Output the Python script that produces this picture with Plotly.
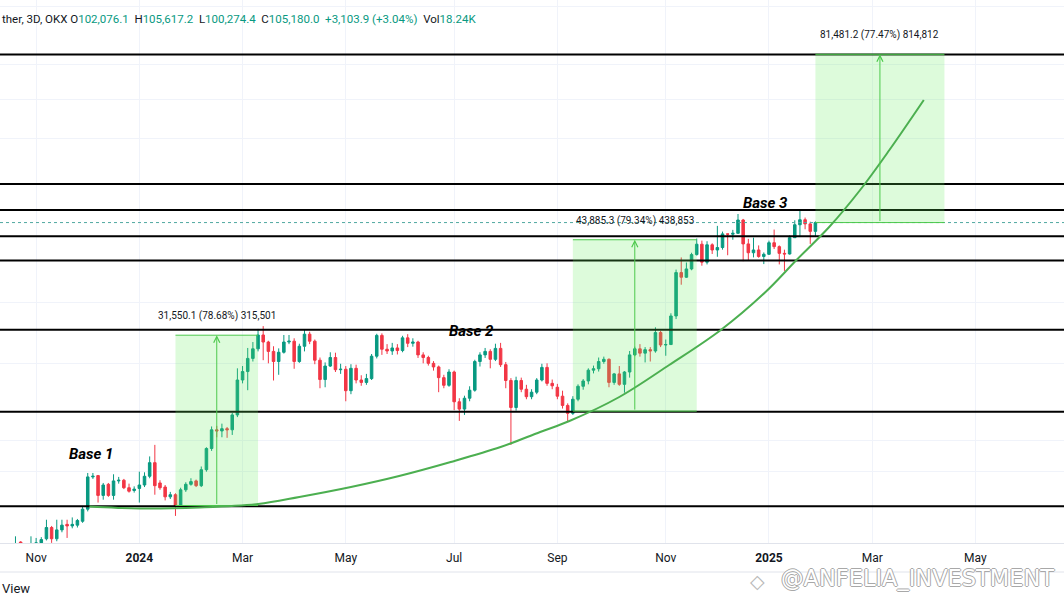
import numpy as np
import pandas as pd
import plotly.graph_objects as go

# ---------------- data (prices in thousands of USDT, 3-day bars) ----------------
bar_start = "2023-10-22"
open_k = [34.5, 35.4, 34.8, 34.9, 35.2, 35.3, 35.8, 37.2, 35.8, 36.9,
          37.6, 37.4, 37.5, 38.0, 39.6, 44.2, 44.4, 41.5, 43.1, 41.5,
          43.6, 43.7, 42.6, 42.2, 42.5, 43.0, 44.3, 46.4, 43.3, 42.7,
          41.3, 41.6, 40.0, 42.3, 43.1, 43.6, 42.9, 45.3, 48.7, 51.9,
          51.7, 52.1, 51.9, 54.6, 61.5, 63.3, 66.2, 68.4, 71.7, 70.0,
          67.8, 65.5, 67.6, 70.0, 70.2, 65.5, 69.0, 71.9, 70.2, 65.8,
          61.6, 64.5, 66.4, 63.7, 63.8, 59.3, 64.0, 61.5, 61.0, 61.8,
          66.7, 71.6, 68.3, 67.9, 68.6, 68.0, 71.0, 69.7, 70.0, 67.0,
          66.4, 65.1, 64.3, 62.0, 60.4, 63.2, 57.1, 55.7, 57.8, 59.4,
          65.5, 67.0, 67.8, 66.0, 68.5, 64.8, 61.4, 56.0, 61.4, 59.6,
          58.1, 59.0, 61.5, 64.2, 60.8, 60.0, 58.2, 56.4, 54.9, 57.6,
          60.2, 61.3, 63.6, 63.9, 65.5, 66.0, 61.0, 62.8, 60.6, 63.2,
          67.0, 68.4, 67.4, 68.2, 67.9, 72.3, 69.3, 69.4, 76.5, 88.7,
          87.3, 89.8, 94.3, 97.7, 91.9, 97.5, 95.8, 96.6, 101.2, 101.1,
          101.4, 106.1, 97.8, 94.9, 95.8, 93.7, 94.4, 98.2, 96.9, 94.7,
          94.5, 99.9, 104.4, 106.2, 104.7, 102.0761]
high_k = [36.1, 35.5, 35.2, 36.1, 35.9, 36.0, 38.2, 37.4, 38.2, 38.2,
          38.2, 38.5, 38.3, 39.9, 44.8, 44.8, 44.5, 43.3, 43.3, 44.6,
          44.2, 43.9, 43.2, 42.8, 45.0, 44.9, 47.4, 49.3, 43.7, 43.0,
          42.0, 41.8, 42.6, 43.4, 44.0, 43.8, 45.8, 48.9, 52.5, 52.6,
          53.0, 52.4, 55.0, 64.0, 64.5, 68.6, 70.0, 73.2, 73.9, 70.3,
          69.0, 68.5, 71.7, 71.7, 70.9, 69.6, 72.9, 72.5, 70.6, 66.4,
          65.3, 67.6, 67.5, 65.0, 64.5, 64.9, 64.8, 62.5, 62.8, 67.2,
          72.0, 72.1, 69.5, 69.8, 69.5, 71.5, 71.9, 70.9, 70.3, 67.6,
          66.8, 65.6, 64.6, 62.6, 63.8, 63.5, 57.8, 58.3, 60.2, 65.9,
          67.6, 68.6, 68.3, 69.6, 69.8, 65.4, 61.9, 62.2, 62.0, 60.5,
          59.6, 61.9, 65.0, 65.1, 61.6, 60.7, 59.3, 56.8, 58.2, 60.6,
          61.7, 64.0, 64.6, 66.4, 66.6, 66.2, 63.0, 64.5, 63.4, 67.9,
          68.9, 69.5, 68.8, 68.8, 73.6, 72.7, 70.6, 77.2, 89.6, 93.4,
          91.8, 94.9, 99.6, 98.9, 98.7, 98.0, 104.0, 102.0, 101.2, 102.6,
          108.3, 106.5, 99.5, 99.9, 97.3, 95.0, 98.9, 102.7, 97.3, 95.9,
          100.7, 106.0, 109.6, 107.0, 105.5, 105.6172]
low_k = [33.8, 34.5, 34.3, 34.5, 34.8, 34.9, 35.6, 35.3, 35.5, 36.6,
         35.9, 37.1, 37.2, 37.8, 39.3, 43.9, 40.5, 40.9, 41.3, 40.9,
         43.2, 42.4, 41.9, 41.9, 40.5, 42.7, 44.0, 41.6, 42.3, 40.8,
         41.0, 38.7, 39.9, 42.0, 42.9, 42.7, 42.7, 45.0, 48.3, 50.6,
         50.6, 50.5, 51.0, 54.2, 60.8, 59.4, 65.5, 67.8, 65.8, 65.1,
         61.4, 62.6, 67.3, 69.5, 63.9, 65.2, 67.8, 69.5, 64.9, 59.8,
         60.0, 64.3, 63.2, 62.8, 57.2, 58.6, 60.8, 60.3, 60.5, 61.5,
         66.2, 67.0, 67.2, 67.0, 67.1, 67.6, 68.8, 68.9, 66.3, 65.1,
         64.6, 63.5, 59.0, 59.8, 60.1, 55.5, 53.5, 54.6, 57.2, 59.1,
         64.4, 66.3, 64.0, 65.6, 64.3, 59.8, 49.3, 55.4, 59.0, 57.6,
         57.6, 58.6, 61.2, 60.3, 59.6, 57.6, 55.8, 53.3, 54.6, 57.2,
         59.5, 60.6, 62.9, 63.3, 65.0, 60.0, 60.5, 60.3, 58.9, 62.0,
         66.7, 66.6, 65.3, 65.5, 67.5, 68.8, 66.8, 69.4, 75.7, 85.1,
         87.1, 89.4, 94.0, 90.8, 91.2, 94.5, 93.6, 95.9, 94.1, 99.2,
         101.2, 92.2, 92.5, 93.4, 93.3, 91.3, 94.2, 96.1, 91.2, 89.2,
         94.3, 99.9, 100.1, 102.8, 97.8, 100.2744]
close_k = [35.0, 34.8, 34.9, 35.2, 35.3, 35.7, 37.2, 35.8, 36.9, 37.5,
           37.4, 37.6, 38.1, 39.6, 44.2, 44.3, 41.5, 43.0, 41.5, 43.6,
           43.7, 42.6, 42.1, 42.4, 43.0, 44.3, 46.4, 42.9, 42.6, 41.3,
           41.6, 40.0, 42.3, 43.1, 43.5, 42.9, 45.3, 48.7, 51.9, 51.7,
           52.1, 51.9, 54.6, 61.5, 63.3, 66.2, 68.4, 71.7, 70.0, 67.8,
           65.5, 67.6, 70.0, 70.2, 65.5, 69.0, 71.9, 70.2, 65.8, 61.6,
           64.5, 66.4, 63.7, 63.8, 59.3, 64.0, 61.5, 61.0, 61.8, 66.7,
           71.6, 68.3, 67.9, 68.6, 68.0, 71.0, 69.7, 70.0, 67.0, 66.4,
           65.1, 64.3, 62.0, 60.4, 63.2, 57.1, 55.7, 57.8, 59.4, 65.5,
           67.0, 67.8, 66.0, 68.5, 64.8, 61.4, 56.0, 61.4, 59.6, 58.1,
           59.0, 61.5, 64.2, 60.8, 60.3, 58.2, 56.4, 54.9, 57.6, 60.2,
           61.3, 63.6, 63.9, 65.5, 66.0, 61.0, 62.8, 60.6, 63.2, 67.0,
           68.4, 67.4, 68.2, 67.9, 72.3, 69.3, 69.4, 76.5, 88.7, 87.3,
           89.8, 94.3, 97.7, 91.9, 97.5, 95.8, 96.6, 101.2, 101.1, 101.4,
           106.1, 97.8, 94.9, 95.8, 93.7, 94.4, 98.2, 96.9, 94.7, 94.5,
           99.9, 104.4, 106.2, 104.7, 102.0761, 105.18]
last_volume = "18.24K"

# horizontal levels (USDT)
level_prices = [40000, 55200, 73000, 92400, 100400, 109800, 120000, 186500]
grid_prices = [45000, 50000, 65000, 80000, 140000, 160000, 180000, 220000]

# price-range measurements
measure_start = ["2024-01-23", "2024-09-10", "2025-01-29"]
measure_end = ["2024-03-11", "2024-11-21", "2025-04-14"]
measure_low = [40099.2, 55312.9, 105177.8]
measure_change = [31550.1, 43885.3, 81481.2]
measure_ticks = [315501, 438853, 814812]

# curved trend line
curve_dates = ["2023-12-04", "2024-01-02", "2024-02-06", "2024-03-11", "2024-04-04",
               "2024-05-04", "2024-06-01", "2024-07-01", "2024-07-30", "2024-08-22",
               "2024-09-08", "2024-10-07", "2024-11-05", "2024-12-05", "2024-12-31",
               "2025-01-18", "2025-02-06", "2025-02-24", "2025-03-13", "2025-04-02"]
curve_prices = [39960, 39690, 39830, 40300, 41280, 42710, 44340, 46510, 48950, 51520,
                53480, 58040, 64730, 72940, 83020, 92580, 103600, 117530, 134690, 159730]

# base labels
base_text = ["Base 1", "Base 2", "Base 3"]
base_dates = ["2023-12-05", "2024-07-13", "2024-12-31"]
base_prices = [47790, 72680, 112430]

# time axis
tick_dates = ["2023-11-03", "2024-01-02", "2024-03-02", "2024-05-01", "2024-07-03",
              "2024-09-01", "2024-11-03", "2025-01-02", "2025-03-03", "2025-05-02"]
tick_text = ["Nov", "<b>2024</b>", "Mar", "May", "Jul", "Sep", "Nov", "<b>2025</b>", "Mar", "May"]
x_range = ["2023-10-13", "2025-06-22 12:00"]
y_range = [35287, 224590]

# ---------------- build ----------------
dates = pd.date_range(bar_start, periods=len(open_k), freq="3D")
o = np.array(open_k) * 1000
h = np.array(high_k) * 1000
l = np.array(low_k) * 1000
c = np.array(close_k) * 1000

UP, DOWN = "#089981", "#F23645"
GREEN = "#4caf50"
ARROW = "#4cc94c"
FONT = "Roboto, Arial"

fig = go.Figure()

fig.add_trace(go.Candlestick(
    x=dates, open=o, high=h, low=l, close=c,
    increasing=dict(line=dict(color=UP, width=1), fillcolor=UP),
    decreasing=dict(line=dict(color=DOWN, width=1), fillcolor=DOWN),
    whiskerwidth=0, hoverinfo="skip", showlegend=False))

# black horizontal levels
for p in level_prices:
    fig.add_trace(go.Scatter(x=x_range, y=[p, p], mode="lines",
                             line=dict(color="#000000", width=2),
                             hoverinfo="skip", showlegend=False))

# current price dotted line
fig.add_trace(go.Scatter(x=x_range, y=[c[-1], c[-1]], mode="lines",
                         line=dict(color="#4fa8a0", width=1, dash="dot"),
                         hoverinfo="skip", showlegend=False))

# measurement boxes
for s, e, lo, ch, tk in zip(measure_start, measure_end, measure_low, measure_change, measure_ticks):
    hi = lo + ch
    fig.add_trace(go.Scatter(x=[s, e, e, s, s], y=[lo, lo, hi, hi, lo], mode="lines",
                             fill="toself", fillcolor="rgba(100,235,90,0.22)",
                             line=dict(width=0), hoverinfo="skip", showlegend=False))
    for yy in (lo, hi):
        fig.add_trace(go.Scatter(x=[s, e], y=[yy, yy], mode="lines",
                                 line=dict(color=ARROW, width=1),
                                 hoverinfo="skip", showlegend=False))
    mid = pd.Timestamp(s) + (pd.Timestamp(e) - pd.Timestamp(s)) / 2
    fig.add_annotation(x=mid, y=np.log10(hi), ax=mid, ay=np.log10(lo),
                       xref="x", yref="y", axref="x", ayref="y",
                       showarrow=True, arrowhead=5, arrowsize=1.2, arrowwidth=1,
                       arrowcolor=ARROW, text="")
    pct = ch / lo * 100
    fig.add_annotation(x=mid, y=np.log10(hi), xref="x", yref="y", yshift=19,
                       showarrow=False,
                       text=f"{ch:,.1f} ({pct:.2f}%) {tk:,}",
                       font=dict(family=FONT, size=10, color="#131722"))

# curve
fig.add_trace(go.Scatter(x=curve_dates, y=curve_prices, mode="lines",
                         line=dict(color=GREEN, width=2, shape="spline"),
                         hoverinfo="skip", showlegend=False))

# base labels
for t, d, p in zip(base_text, base_dates, base_prices):
    fig.add_annotation(x=d, y=np.log10(p), xref="x", yref="y", showarrow=False, text=t,
                       font=dict(family=FONT, size=15, color="#000000",
                                 weight="bold", style="italic"))

# header
g = lambda v: f"<span style='color:{UP}'>{v}</span>"
chg = c[-1] - c[-2]
sp = "\u00a0\u00a0"
header = ("ther, 3D, OKX\u00a0O" + g(f"{o[-1]:,.1f}") + sp + "H" + g(f"{h[-1]:,.1f}")
          + sp + "L" + g(f"{l[-1]:,.1f}") + sp + "C" + g(f"{c[-1]:,.1f}")
          + sp + g(f"{chg:+,.1f} ({chg / c[-2] * 100:+.2f}%)")
          + sp + "Vol" + g(last_volume))
fig.add_annotation(x=0, y=1 - 19 / 543, xref="paper", yref="paper", xanchor="left",
                   yanchor="middle", showarrow=False, text=header,
                   font=dict(family=FONT, size=11.5, color="#131722"))

# bottom texts
fig.add_annotation(x=0, y=-(588 - 543) / 543, xref="paper", yref="paper", xanchor="left",
                   yanchor="middle", showarrow=False, text="View",
                   font=dict(family=FONT, size=13, color="#131722"))
fig.add_annotation(x=917 / 1064, y=-(578 - 543) / 543, xref="paper", yref="paper",
                   xanchor="center", yanchor="middle", showarrow=False,
                   text="@ANFELIA_INVESTMENT",
                   font=dict(family="DejaVu Sans", size=22.5, color="#ffffff",
                             shadow="1px 0 0 #a8a8a8, -1px 0 0 #a8a8a8, 0 1px 0 #a8a8a8, 0 -1px 0 #a8a8a8"))
fig.add_annotation(x=757 / 1064, y=-(581 - 543) / 543, xref="paper", yref="paper",
                   xanchor="center", yanchor="middle", showarrow=False, text="◇",
                   font=dict(family="DejaVu Sans", size=19, color="#b8b8b8"))
fig.add_shape(type="line", xref="paper", yref="paper", x0=0, x1=1,
              y0=-(572 - 543) / 543, y1=-(572 - 543) / 543,
              line=dict(color="#e0e3eb", width=1))

fig.update_layout(
    width=1064, height=598, margin=dict(l=0, r=0, t=0, b=55),
    paper_bgcolor="#ffffff", plot_bgcolor="#ffffff", showlegend=False,
    hovermode=False,
    xaxis=dict(type="date", range=x_range, rangeslider=dict(visible=False),
               tickmode="array", tickvals=tick_dates, ticktext=tick_text,
               showgrid=True, gridcolor="#f0f3fa", gridwidth=1,
               ticks="", ticklabelstandoff=4, showline=True, linecolor="#e0e3eb",
               tickfont=dict(family=FONT, size=12, color="#131722"),
               zeroline=False, fixedrange=True),
    yaxis=dict(type="log", range=[np.log10(y_range[0]), np.log10(y_range[1])],
               tickmode="array", tickvals=grid_prices, showticklabels=False,
               showgrid=True, gridcolor="#f0f3fa", gridwidth=1, zeroline=False,
               ticks="", fixedrange=True),
)

fig.write_html("out.html")
